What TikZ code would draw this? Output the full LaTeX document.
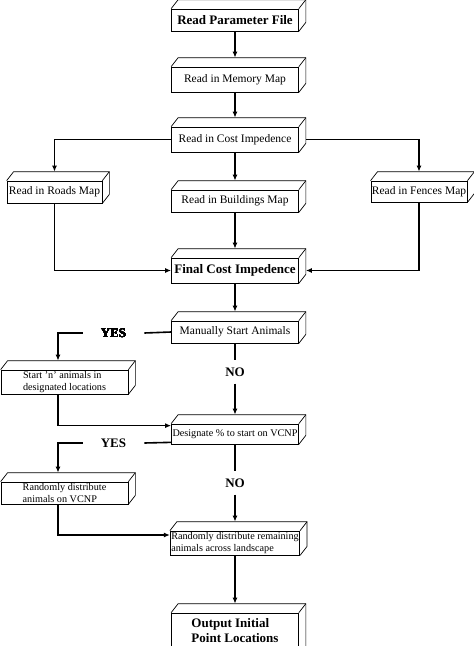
\documentclass[tikz,border=0pt]{standalone}
\usepackage{fontspec}
\setmainfont{Liberation Serif}
\usetikzlibrary{positioning,arrows.meta}

\newcommand{\bigtxt}{\fontsize{13}{15}\selectfont\bfseries}
\newcommand{\midtxt}{\fontsize{11.5}{13}\selectfont}
\newcommand{\smalltxt}{\fontsize{10.2}{12}\selectfont}
% top and side faces of a slab
\newcommand{\slabfaces}[1]{%
  \draw[line width=0.7pt] (#1.north west) -- ++(7pt,9pt) -- ([xshift=7pt,yshift=9pt]#1.north east)
    -- ([xshift=7pt,yshift=9pt]#1.south east) -- (#1.south east);
  \draw[line width=0.7pt] (#1.north east) -- ++(7pt,9pt);}

\tikzset{
  slab/.style={draw,fill=white,line width=0.7pt,inner sep=1pt},
  flow/.style={line width=1.6pt,-{Latex[length=6pt,width=5pt]}},
  plain/.style={line width=1.6pt},
  answer/.style={font=\bigtxt,inner xsep=18pt,inner ysep=7pt}
}

\begin{document}
\begin{tikzpicture}[x=1pt,y=-1pt]
    \useasboundingbox (0,0) rectangle (474,646);
    % boxes
    \node[slab,font=\bigtxt,minimum width=127pt,minimum height=22pt] (param) at (235,20) {Read Parameter File};
    \node[slab,font=\midtxt,minimum width=127pt,minimum height=25pt] (memory) at (235,79.5) {Read in Memory Map};
    \node[slab,font=\midtxt,minimum width=127pt,minimum height=25pt] (cost) at (235,139.5) {Read in Cost Impedence};
    \node[slab,font=\midtxt,minimum width=95pt,minimum height=22pt] (roads) at (54.5,192) {Read in Roads Map};
    \node[slab,font=\midtxt,minimum width=127pt,minimum height=22pt] (buildings) at (235,201) {Read in Buildings Map};
    \node[slab,font=\midtxt,minimum width=94pt,minimum height=21pt] (fences) at (419,191.5) {Read in Fences Map};
    \node[slab,font=\bigtxt,minimum width=127pt,minimum height=25pt] (final) at (235,270.5) {Final Cost Impedence};
    \node[slab,font=\midtxt,minimum width=127pt,minimum height=22pt] (manually) at (235,332) {Manually Start Animals};
    \node[slab,font=\smalltxt,align=left,minimum width=127pt,minimum height=24pt] (startn) at (64.5,382) {Start 'n' animals in\\designated locations};
    \node[slab,font=\smalltxt,minimum width=127pt,minimum height=20pt] (designate) at (235,434) {Designate \% to start on VCNP};
    \node[slab,font=\smalltxt,align=left,minimum width=127pt,minimum height=22pt] (vcnp) at (64.5,493) {Randomly distribute\\animals on VCNP};
    \node[slab,font=\smalltxt,align=left,minimum width=127pt,minimum height=24pt] (remaining) at (235,543) {Randomly distribute remaining\\animals across landscape};
    \node[slab,font=\bigtxt,align=left,minimum width=127pt,minimum height=50pt] (output) at (235,638) {Output Initial\\Point Locations\\\mbox{}};
    \foreach \b in {param,memory,cost,roads,buildings,fences,final,manually,startn,designate,vcnp,remaining,output}
        \slabfaces{\b}
    % answers
    \node[answer] (yes1) at (113.5,333) {YES};
    \node[answer] (yes2) at (113.5,443) {YES};
    \node[answer] (no1) at (235,372) {NO};
    \node[answer] (no2) at (235,483) {NO};
    % connectors
    \draw[flow] (param.south) -- ([yshift=9pt]memory.north);
    \draw[flow] (memory.south) -- ([yshift=9pt]cost.north);
    \draw[flow] (cost.west) -| ([yshift=9pt]roads.north);
    \draw[flow] (cost.south) -- ([yshift=9pt]buildings.north);
    \draw[flow] ([xshift=7pt]cost.east) -| ([yshift=9pt]fences.north);
    \draw[flow] (roads.south) |- (final.west);
    \draw[flow] (buildings.south) -- ([yshift=9pt]final.north);
    \draw[flow] (fences.south) |- ([xshift=7pt]final.east);
    \draw[flow] (final.south) -- ([yshift=9pt]manually.north);
    \draw[plain] (manually.west) -- (yes1.east);
    \draw[flow] (yes1.west) -| ([xshift=-6.5pt,yshift=9pt]startn.north);
    \draw[plain] (manually.south) -- (no1.north);
    \draw[flow] (no1.south) -- ([yshift=9pt]designate.north);
    \draw[flow] ([xshift=-6.5pt]startn.south) |- ([yshift=-2pt]designate.north west);
    \draw[plain] ([yshift=2pt]designate.south west) -- (yes2.east);
    \draw[flow] (yes2.west) -| ([xshift=-6.5pt,yshift=9pt]vcnp.north);
    \draw[plain] (designate.south) -- (no2.north);
    \draw[flow] (no2.south) -- ([yshift=9pt]remaining.north);
    \draw[flow] ([xshift=-6.5pt]vcnp.south) |- ([yshift=8pt]remaining.west);
    \draw[flow] (remaining.south) -- ([yshift=9pt]output.north);
\end{tikzpicture}
\end{document}
